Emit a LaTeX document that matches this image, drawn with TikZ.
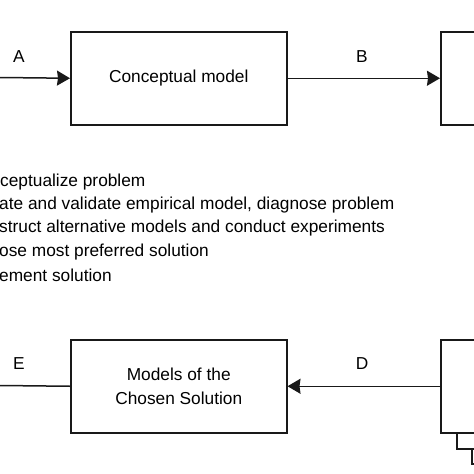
\documentclass[tikz,border=0pt]{standalone}
\usepackage{fontspec}
\setmainfont{Liberation Sans}
\usetikzlibrary{arrows.meta}
\tikzset{
  box/.style={draw=black!90, line width=1.5pt, fill=white, rectangle, inner sep=0pt, minimum width=216pt, minimum height=93pt, align=center},
  conn/.style={draw=black!90, line width=1.5pt},
  arr/.style={conn, -{Stealth[length=13pt,width=15pt,inset=1pt]}},
  lbl/.style={inner sep=0pt},
  txt/.style={inner sep=0pt, anchor=west},
}
\begin{document}
\begin{tikzpicture}[x=1pt,y=-1pt,font=\fontsize{17.3}{24}\selectfont]
\useasboundingbox (0,0) rectangle (474,474);
\clip (0,0) rectangle (474,474);
% top row
\node[box, anchor=north west] (cm) at (70,31) {Conceptual model};
\node[box, anchor=north west, minimum width=150pt] (tr) at (440,31) {};
\coordinate (ain) at (0,77.5);
\draw[arr] (ain) -- (cm.west);
\draw[arr] (cm.east) -- (tr.west);
\node[lbl] (la) at (19,57) {A};
\node[lbl] (lb) at (362,57) {B};
% text lines
\node[txt] (t1) at (0,182) {ceptualize problem};
\node[txt] (t2) at (-1,205) {ate and validate empirical model, diagnose problem};
\node[txt] (t3) at (-1,228) {struct alternative models and conduct experiments};
\node[txt] (t4) at (-1,252) {ose most preferred solution};
\node[txt] (t5) at (-1,275) {ement solution};
% bottom row
\node[box, anchor=north west, minimum width=150pt] (br3) at (471,370) {};
\node[box, anchor=north west, minimum width=150pt] (br2) at (456,355) {};
\node[box, anchor=north west, minimum width=150pt] (br1) at (440,339) {};
\node[box, anchor=north west] (cs) at (70,339) {Models of the\\Chosen Solution};
\coordinate (eout) at (0,385.5);
\draw[arr] (br1.west) -- (cs.east);
\draw[conn] (cs.west) -- (eout);
\node[lbl] (le) at (19,364) {E};
\node[lbl] (ld) at (362,364) {D};
\end{tikzpicture}
\end{document}
